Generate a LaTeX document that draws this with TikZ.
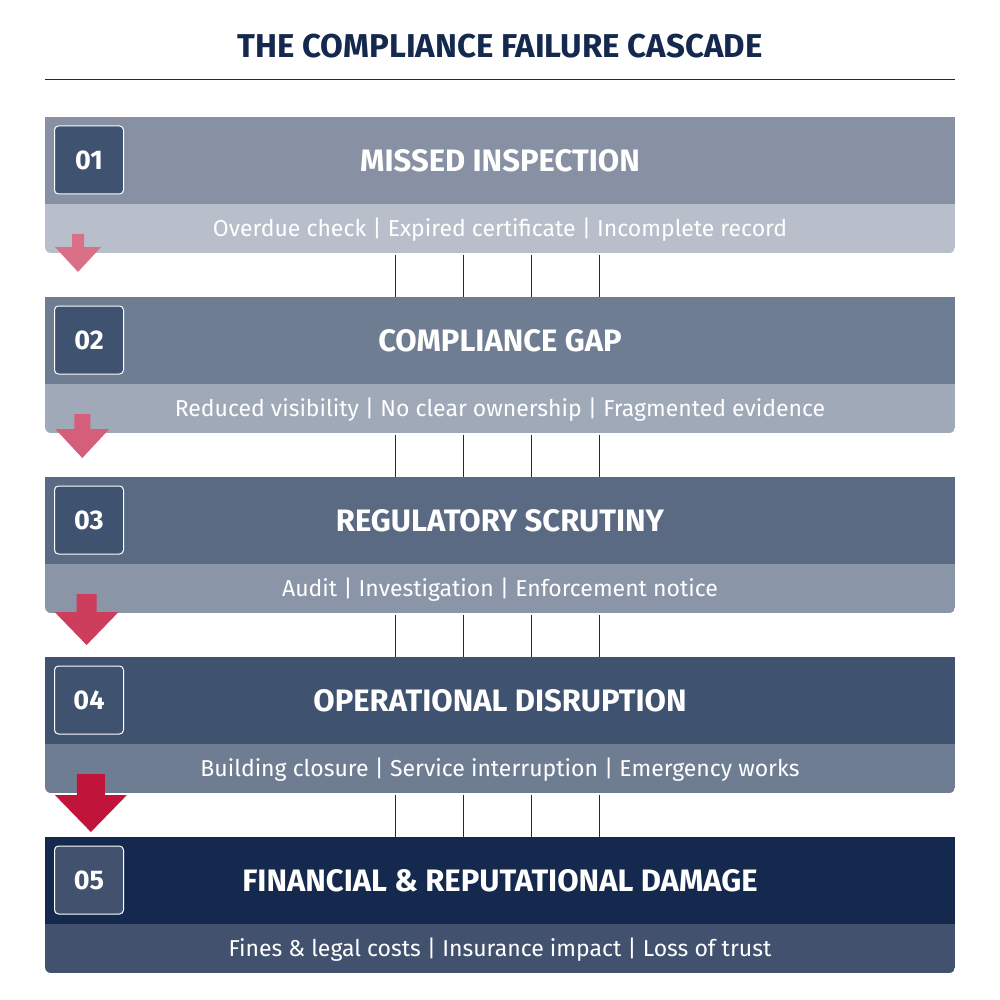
\documentclass[tikz,border=0pt]{standalone}
\usepackage{fontspec}
\setmainfont{Fira Sans}
\usetikzlibrary{positioning,calc}
\definecolor{navy}{HTML}{14294D}
\definecolor{hA}{HTML}{8891A3}\definecolor{sA}{HTML}{B8BFCB}
\definecolor{hB}{HTML}{6F7D93}\definecolor{sB}{HTML}{A0A9B8}
\definecolor{hC}{HTML}{5A6A82}\definecolor{sC}{HTML}{8A95A8}
\definecolor{hD}{HTML}{3F5270}\definecolor{sD}{HTML}{6F7D93}
\definecolor{hE}{HTML}{14294D}\definecolor{sE}{HTML}{42526E}
\definecolor{aA}{HTML}{D97088}\definecolor{aB}{HTML}{D55F7A}
\definecolor{aC}{HTML}{CC3E5C}\definecolor{aD}{HTML}{C0143A}
\definecolor{nbox}{HTML}{3F5270}
\tikzset{
  headbar/.style={minimum width=910pt, minimum height=87pt, inner sep=0pt,
     text=white, font=\bfseries\fontsize{31}{34}\selectfont},
  subbar/.style={minimum width=910pt, minimum height=49pt, inner sep=0pt,
     text=white, font=\fontsize{23}{26}\selectfont},
  numbox/.style={fill=#1, draw=white, line width=1pt, rounded corners=4pt,
     minimum width=69pt, minimum height=68pt, inner sep=0pt,
     text=white, font=\bfseries\fontsize{27}{30}\selectfont},
  link/.style={draw=navy, line width=0.8pt},
}
\begin{document}
\begin{tikzpicture}[x=1pt,y=-1pt]
\useasboundingbox (0,0) rectangle (1000,1000);
\fill[white] (0,0) rectangle (1000,1000);
\node[text=navy, font=\bfseries\fontsize{33}{36}\selectfont] (title) at (500,46) {THE COMPLIANCE FAILURE CASCADE};
\draw[navy, line width=0.8pt] (45,79) -- (955,79);
% steps
\foreach \i/\hc/\sc/\nc/\head/\sub in {
  1/hA/sA/nbox/MISSED INSPECTION/{Overdue check | Expired certificate | Incomplete record},
  2/hB/sB/nbox/COMPLIANCE GAP/{Reduced visibility | No clear ownership | Fragmented evidence},
  3/hC/sC/nbox/REGULATORY SCRUTINY/{Audit | Investigation | Enforcement notice},
  4/hD/sD/nbox/OPERATIONAL DISRUPTION/{Building closure | Service interruption | Emergency works},
  5/hE/sE/sE/FINANCIAL \& REPUTATIONAL DAMAGE/{Fines \& legal costs | Insurance impact | Loss of trust}}{
  \pgfmathsetmacro{\top}{117+180*(\i-1)}
  \begin{scope}
    \clip[rounded corners=6pt] (45,\top) -| (955,\top+136) -| (45,\top) -- cycle;
    \fill[\sc] (45,\top) rectangle (955,\top+136);
    \fill[\hc] (45,\top) rectangle (955,\top+87);
  \end{scope}
  \fill[\hc] (900,\top) rectangle (955,\top+20);
  \node[headbar] (head\i) at (500,\top+44) {\head};
  \node[subbar] (sub\i) at (500,\top+113) {\sub};
  \node[numbox=\nc] (num\i) at (89,\top+43) {0\i};
}
% connectors between steps
\foreach \i [evaluate=\i as \j using int(\i+1)] in {1,...,4}{
  \foreach \dx in {-105,-37,31,99}{
    \draw[link] ($(sub\i.south)+(\dx,0)$) -- ($(head\j.north)+(\dx,0)$);
  }
}
% cascade arrows
\foreach \i/\ac/\w/\s/\h/\l in {1/aA/23/6/25/38, 2/aB/27/8/29/44, 3/aC/32/10/33/51, 4/aD/36/14/37/58}{
  \pgfmathsetmacro{\ay}{234+180*(\i-1)}
  \pgfmathsetmacro{\ax}{78+(\i-1)*4.3}
  \fill[\ac] (\ax-\s,\ay) -- (\ax+\s,\ay) -- (\ax+\s,\ay+\l-\h) -- (\ax+\w,\ay+\l-\h)
     -- (\ax,\ay+\l) -- (\ax-\w,\ay+\l-\h) -- (\ax-\s,\ay+\l-\h) -- cycle;
}
\end{tikzpicture}
\end{document}
